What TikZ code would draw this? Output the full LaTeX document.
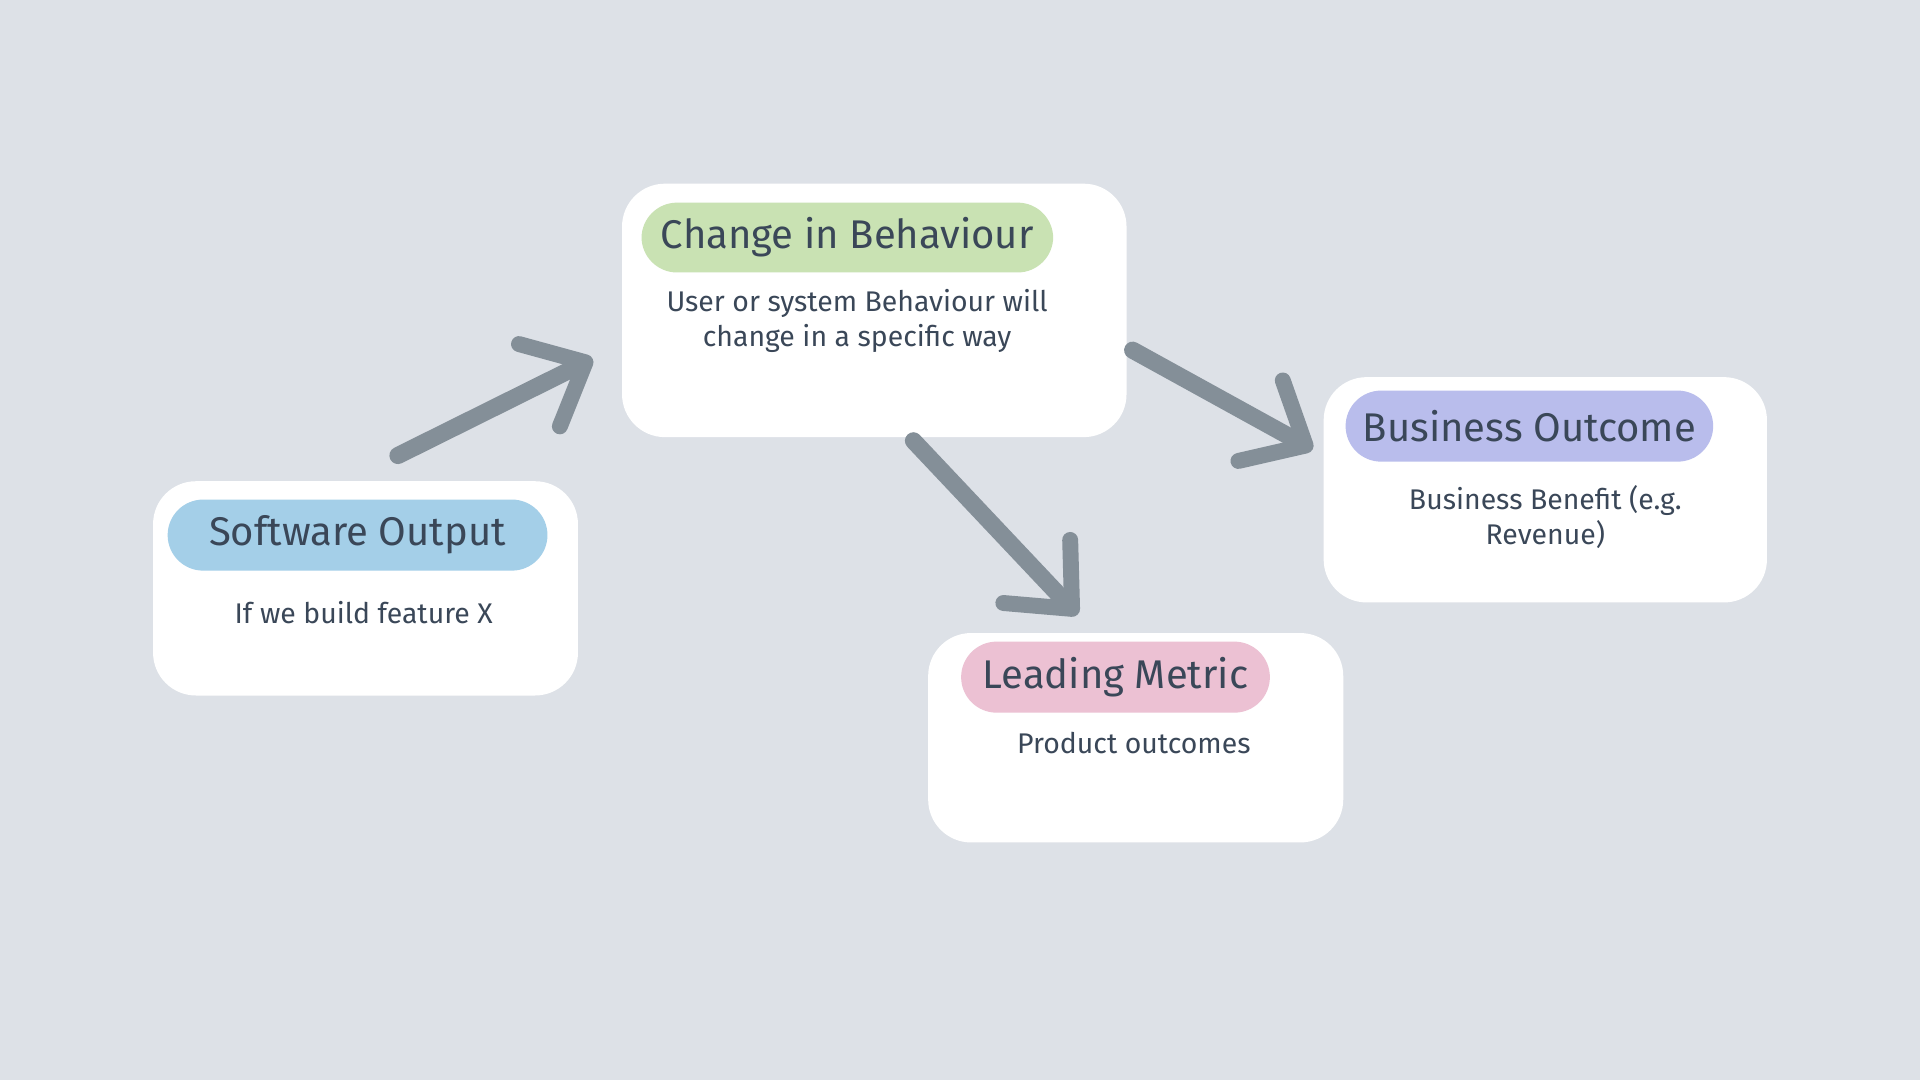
\documentclass[tikz,border=0pt]{standalone}
\usepackage{fontspec}
\setmainfont{Fira Sans}
\usetikzlibrary{arrows.meta}
\definecolor{bg}{HTML}{DDE1E7}
\definecolor{txt}{HTML}{3A4758}
\definecolor{arr}{HTML}{848F98}
\definecolor{cblue}{HTML}{A4CFE8}
\definecolor{cgreen}{HTML}{C9E2B3}
\definecolor{cpurple}{HTML}{B9BDEC}
\definecolor{cpink}{HTML}{ECC1D3}
\tikzset{
  card/.style={fill=white, rounded corners=0.35cm, draw=none},
  pill/.style={rounded corners=0.29cm, draw=none, text=txt, inner sep=0pt, font=\fontsize{9.3}{11}\selectfont},
  body/.style={text=txt, font=\fontsize{6.6}{8.2}\selectfont, align=center},
  flow/.style={draw=arr, line width=0.14cm, line cap=round, line join=round, -{Straight Barb[length=0.42cm,width=0.75cm,line width=0.13cm,round]}}
}
\begin{document}
\begin{tikzpicture}[x=0.01cm,y=-0.01cm]
\fill[bg] (0,0) rectangle (1568,882);
\useasboundingbox (0,0) rectangle (1568,882);
% cards
\path[card] (125,393) rectangle (472,568);
\path[card] (508,150) rectangle (920,357);
\path[card] (1081,308) rectangle (1443,492);
\path[card] (758,517) rectangle (1097,688);
% pills
\node[pill, fill=cblue, minimum width=3.1cm, minimum height=0.58cm] (so) at (292,437) {Software Output};
\node[pill, fill=cgreen, minimum width=3.36cm, minimum height=0.57cm] (cb) at (692,194) {Change in Behaviour};
\node[pill, fill=cpurple, minimum width=3.0cm, minimum height=0.58cm] (bo) at (1249,348) {Business Outcome};
\node[pill, fill=cpink, minimum width=2.52cm, minimum height=0.58cm] (lm) at (911,553) {Leading Metric};
% texts
\node[body] (t1) at (297,500) {If we build feature X};
\node[body] (t2) at (700,262) {User or system Behaviour will\\change in a specific way};
\node[body] (t3) at (1262,422) {Business Benefit (e.g.\\Revenue)};
\node[body] (t4) at (926,607) {Product outcomes};
% arrows
\coordinate (a1s) at (325,372); \coordinate (a1e) at (484,293);
\coordinate (a2s) at (925,286); \coordinate (a2e) at (1072,367);
\coordinate (a3s) at (746,360); \coordinate (a3e) at (880,502);
\draw[flow] (a1s) -- (a1e);
\draw[flow] (a2s) -- (a2e);
\draw[flow] (a3s) -- (a3e);
\end{tikzpicture}
\end{document}
